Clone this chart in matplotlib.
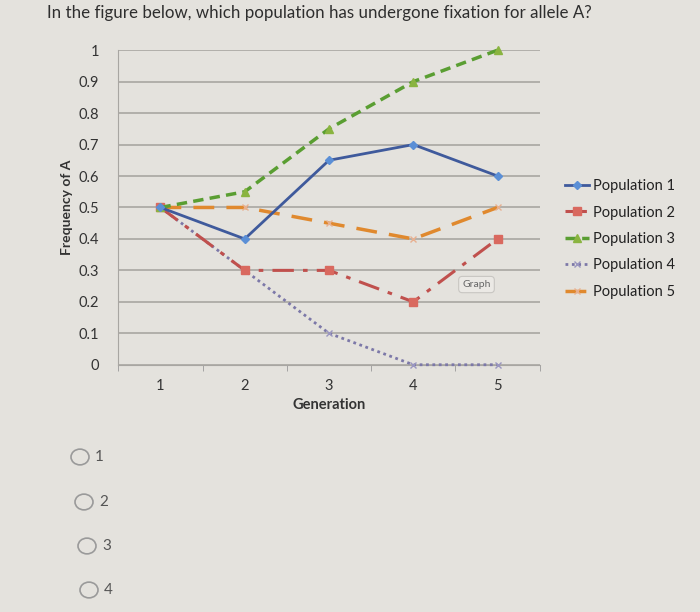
import matplotlib
matplotlib.use("Agg")
import matplotlib.pyplot as plt
from matplotlib.patches import Circle

generations = [1, 2, 3, 4, 5]
pop1 = [0.5, 0.4, 0.65, 0.7, 0.6]
pop2 = [0.5, 0.3, 0.3, 0.2, 0.4]
pop3 = [0.5, 0.55, 0.75, 0.9, 1.0]
pop4 = [0.5, 0.3, 0.1, 0.0, 0.0]
pop5 = [0.5, 0.5, 0.45, 0.4, 0.5]
labels = ["Population 1", "Population 2", "Population 3", "Population 4", "Population 5"]
yticks = [0, 0.1, 0.2, 0.3, 0.4, 0.5, 0.6, 0.7, 0.8, 0.9, 1]
ytick_labels = ["0", "0.1", "0.2", "0.3", "0.4", "0.5", "0.6", "0.7", "0.8", "0.9", "1"]
options = ["1", "2", "3", "4"]

plt.rcParams['font.family'] = ['Lato', 'DejaVu Sans']
bg = '#e4e2dd'
fig = plt.figure(figsize=(7.0, 6.12), dpi=100)
fig.patch.set_facecolor(bg)

ax = fig.add_axes([0.169, 0.404, 0.602, 0.514])
ax.set_facecolor(bg)

ax.plot(generations, pop1, color='#3f5a9c', lw=2, marker='D', ms=4,
        mfc='#5b8fd6', mec='#5b8fd6', label=labels[0], clip_on=False, zorder=5)
ax.plot(generations, pop2, color='#c0504d', lw=2.2, ls=(0, (7, 3, 1.5, 3)), marker='s', ms=6,
        mfc='#d9695f', mec='#d9695f', label=labels[1], clip_on=False, zorder=4)
ax.plot(generations, pop3, color='#5a9e32', lw=2.5, ls=(0, (3, 1.8)), marker='^', ms=6,
        mfc='#8ab440', mec='#8ab440', label=labels[2], clip_on=False, zorder=4)
ax.plot(generations, pop4, color='#7c78a8', lw=2, ls=(0, (1, 1.3)), marker='x', ms=5,
        mec='#9a96c0', label=labels[3], clip_on=False, zorder=3)
ax.plot(generations, pop5, color='#e0892e', lw=2.5, ls=(0, (6, 3.5)), marker='x', ms=5,
        mec='#e8b090', label=labels[4], clip_on=False, zorder=3)

ax.set_xlim(0.5, 5.5)
ax.set_ylim(0, 1)
ax.set_yticks(yticks)
ax.set_yticklabels(ytick_labels)
ax.set_xticks(generations)
ax.set_xticks([0.5, 1.5, 2.5, 3.5, 4.5, 5.5], minor=True)
ax.tick_params(axis='x', which='major', length=0, pad=10, labelsize=10.5, colors='#333333')
ax.tick_params(axis='x', which='minor', length=4, color='#999999')
ax.tick_params(axis='y', length=0, pad=14, labelsize=10.5, colors='#333333')
ax.yaxis.grid(True, color='#a8a6a2', lw=1.2)
ax.set_axisbelow(True)
for s in ['top', 'right']:
    ax.spines[s].set_visible(False)
ax.spines['left'].set_color('#a8a6a2')
ax.spines['bottom'].set_color('#a8a6a2')
ax.set_xlabel('Generation', fontsize=10.5, fontweight='bold', color='#333333', labelpad=4)
ax.set_ylabel('Frequency of A', fontsize=10, fontweight='bold', color='#333333', labelpad=4)

leg = ax.legend(loc='center left', bbox_to_anchor=(1.03, 0.40), frameon=False,
                fontsize=10.5, handlelength=1.6, handletextpad=0.3, labelspacing=0.85)
for t in leg.get_texts():
    t.set_color('#222222')

# "Graph" tooltip
ax.text(4.75, 0.255, 'Graph', fontsize=7.5, color='#666666', ha='center', va='center',
        bbox=dict(boxstyle='round,pad=0.35', fc='#ebe9e5', ec='#c8c6c2', lw=0.8), zorder=6)

fig.text(0.067, 0.978, 'In the figure below, which population has undergone fixation for allele A?',
         fontsize=12.2, color='#2e2e2e', ha='left', va='center')

ys = [457, 502, 546, 590]
xs = [80, 84, 87, 89]
for opt, x, y in zip(options, xs, ys):
    c = Circle((x / 700, 1 - y / 612), 9 / 700, transform=fig.transFigure,
               fill=False, ec='#9a9a9a', lw=1.2)
    fig.add_artist(c)
    fig.text((x + 15) / 700, 1 - y / 612, opt, fontsize=11, color='#555555', va='center')

fig.savefig('out.png', dpi=100, facecolor=bg)
